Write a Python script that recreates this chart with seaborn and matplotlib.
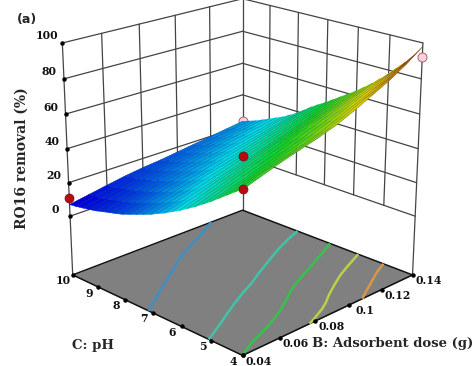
import numpy as np
import matplotlib
matplotlib.use("Agg")
import matplotlib.pyplot as plt
import seaborn as sns
from mpl_toolkits.mplot3d import proj3d

# dose along the columns, pH along the rows
dose = [0.04, 0.05, 0.06, 0.07, 0.08, 0.09, 0.10, 0.11, 0.12, 0.13, 0.14]
ph = [4, 4.25, 4.5, 4.75, 5, 5.25, 5.5, 5.75, 6, 6.25, 6.5, 6.75, 7,
      7.25, 7.5, 7.75, 8, 8.25, 8.5, 8.75, 9, 9.25, 9.5, 9.75, 10]
removal = [
    [54.0, 57.5, 61.0, 64.0, 67.0, 70.5, 75.0, 80.0, 85.0, 91.0, 98.0],
    [51.0, 54.5, 57.5, 60.5, 63.5, 67.0, 71.5, 76.3, 81.0, 86.5, 92.0],
    [47.7, 51.0, 54.0, 57.0, 60.0, 63.5, 68.0, 72.5, 77.0, 82.0, 87.0],
    [44.4, 47.8, 50.9, 54.0, 57.3, 60.8, 65.0, 69.3, 73.5, 78.0, 82.5],
    [41.1, 44.5, 47.7, 51.0, 54.5, 58.0, 62.0, 66.0, 70.0, 74.0, 78.0],
    [38.1, 41.7, 45.1, 48.5, 52.0, 55.5, 59.4, 63.1, 66.7, 70.4, 74.0],
    [35.1, 38.8, 42.5, 46.0, 49.5, 53.0, 56.8, 60.1, 63.4, 66.7, 70.0],
    [32.5, 36.1, 39.7, 43.2, 46.8, 50.3, 53.7, 56.9, 60.1, 63.3, 66.5],
    [29.8, 33.3, 36.9, 40.4, 44.0, 47.5, 50.6, 53.7, 56.8, 59.9, 63.0],
    [27.5, 30.8, 34.2, 37.5, 40.9, 44.3, 47.4, 50.6, 53.7, 56.9, 60.0],
    [25.1, 28.3, 31.5, 34.6, 37.8, 41.0, 44.2, 47.4, 50.6, 53.8, 57.0],
    [23.1, 26.2, 29.3, 32.3, 35.4, 38.5, 41.6, 44.7, 47.8, 50.9, 54.0],
    [21.0, 24.0, 27.0, 30.0, 33.0, 36.0, 39.0, 42.0, 45.0, 48.0, 51.0],
    [19.3, 22.2, 25.0, 27.8, 30.7, 33.5, 36.5, 39.4, 42.4, 45.3, 48.3],
    [17.6, 20.3, 23.0, 25.6, 28.3, 31.0, 33.9, 36.8, 39.7, 42.6, 45.5],
    [16.0, 18.8, 21.4, 23.9, 26.5, 29.0, 31.7, 34.3, 37.0, 39.6, 42.3],
    [14.4, 17.0, 19.7, 22.1, 24.6, 27.0, 29.4, 31.8, 34.2, 36.6, 39.0],
    [13.2, 15.7, 18.2, 20.6, 23.0, 25.3, 27.5, 29.8, 32.0, 34.3, 36.5],
    [12.1, 14.3, 16.6, 19.0, 21.3, 23.5, 25.6, 27.7, 29.8, 31.9, 34.0],
    [11.0, 13.2, 15.5, 17.8, 20.0, 22.0, 24.0, 26.0, 28.0, 30.0, 32.0],
    [9.8, 12.2, 14.3, 16.5, 18.6, 20.5, 22.4, 24.3, 26.2, 28.1, 30.0],
    [9.0, 11.2, 13.2, 15.4, 17.3, 19.0, 20.8, 22.6, 24.4, 26.2, 28.0],
    [8.2, 10.2, 12.2, 14.2, 16.0, 17.5, 19.2, 20.9, 22.6, 24.3, 26.0],
    [7.5, 9.6, 11.5, 13.5, 15.2, 16.5, 18.1, 19.7, 21.3, 22.9, 24.5],
    [7.0, 9.0, 11.0, 12.9, 14.4, 15.5, 17.0, 18.5, 20.0, 21.5, 23.0],
]

# design points
above_dose = [0.04, 0.09, 0.04]
above_ph = [10, 7, 4]
above_removal = [11, 36, 54]
below_dose = [0.14, 0.14]
below_ph = [4, 10]
below_removal = [92, 23]

dose_ticks = [0.04, 0.06, 0.08, 0.10, 0.12, 0.14]
dose_labels = ["0.04", "0.06", "0.08", "0.1", "0.12", "0.14"]
ph_ticks = [4, 5, 6, 7, 8, 9, 10]
z_ticks = [0, 20, 40, 60, 80, 100]
levels = [20, 40, 53.9, 66, 79]
level_colors = ["#3f8fc4", "#3fc4a8", "#35c24a", "#b5d24a", "#d9964a"]
floor = -36

sns.set_style("white")
cmap = sns.blend_palette(["#0000d8", "#00d8e8", "#10d020", "#e0d000", "#a02000"], as_cmap=True)
serif = "DejaVu Serif"

fig = plt.figure(figsize=(4.74, 3.66), dpi=100)
S = 416
ax = fig.add_axes([(237 - S / 2) / 474, (198 - S / 2) / 366, S / 474, S / 366], projection="3d")
ax.computed_zorder = False
ax.set_box_aspect((1, 1, 1.0))
ax.set_proj_type("persp", focal_length=0.65)
ax.view_init(elev=20.5, azim=-135)
ax.set_xlim(0.04, 0.14)
ax.set_ylim(4, 10)
ax.set_zlim(floor, 100)
ax.set_axis_off()

wall = dict(color="#444444", lw=0.9, zorder=1)
for z in z_ticks:
    ax.plot([0.04, 0.14], [10, 10], [z, z], **wall)
    ax.plot([0.14, 0.14], [4, 10], [z, z], **wall)
for d in dose_ticks[1:-1]:
    ax.plot([d, d], [10, 10], [0, 100], **wall)
for p in ph_ticks[1:-1]:
    ax.plot([0.14, 0.14], [p, p], [0, 100], **wall)
for d, p in [(0.04, 10), (0.14, 10), (0.14, 4)]:
    ax.plot([d, d], [p, p], [floor, 100], **wall)

D, P = np.meshgrid(dose, ph)
Z = np.array(removal)
ax.plot_surface(D, P, np.full(Z.shape, floor), color="#808080", shade=False, linewidth=0, rstride=24, cstride=10,
                zorder=1.5)
ax.plot([0.04, 0.14, 0.14, 0.04, 0.04], [10, 10, 4, 4, 10], [floor] * 5, color="#111111", lw=1.1, zorder=1.6)
ax.contour(D, P, Z, levels=levels, colors=level_colors, linewidths=1.8, zdir="z", offset=floor, zorder=1.7)

ax.scatter(below_dose, below_ph, below_removal, s=42, color="#fbd0d8", edgecolor="#a05060", linewidth=0.6,
           depthshade=False, zorder=2)
surf = ax.plot_surface(D, P, Z, cmap=cmap, vmin=8, vmax=97, rstride=1, cstride=1, linewidth=0,
                       shade=False, antialiased=True, zorder=3)
surf.set_edgecolor("face")
surf.set_linewidth(0.3)
# thin mesh lines running along the dose direction
for row_p, row_z in zip(ph, removal):
    ax.plot(dose, [row_p] * len(dose), row_z, color="#0a3040", lw=0.3, alpha=0.55, zorder=3.2)
ax.scatter(above_dose, above_ph, above_removal, s=42, color="#b80a10", edgecolor="#701010", linewidth=0.5,
           depthshade=False, zorder=4)

# tick dots and labels
M = ax.get_proj()


def tick(x, y, z, label, dx, dy, size=7.8):
    px, py, _ = proj3d.proj_transform(x, y, z, M)
    ax.plot([x], [y], [z], "o", color="black", ms=2.2, zorder=5)
    ax.annotate(label, (px, py), xytext=(dx * 0.72, -dy * 0.72), textcoords="offset points", ha="center",
                va="center", family=serif, weight="bold", size=size, color="#111111")


for z in z_ticks:
    tick(0.04, 10, z, str(z), -15, -7)
for p in ph_ticks:
    tick(0.04, p, floor, str(p), -9, 6)
for d, lab in zip(dose_ticks, dose_labels):
    tick(d, 4, floor, lab, 16, 6)

fig.text(27 / 474, 1 - 20 / 366, "(a)", family="DejaVu Sans", weight="bold", size=9, ha="center", va="center")
fig.text(22 / 474, 1 - 158 / 366, "RO16 removal (%)", family=serif, weight="bold", size=10, rotation=90,
         ha="center", va="center")
fig.text(93 / 474, 1 - 345 / 366, "C: pH", family=serif, weight="bold", size=9.5, ha="center", va="center")
fig.text(393 / 474, 1 - 344 / 366, "B: Adsorbent dose (g)", family=serif, weight="bold", size=9.5, ha="center",
         va="center")

fig.savefig("out.png", dpi=100)
